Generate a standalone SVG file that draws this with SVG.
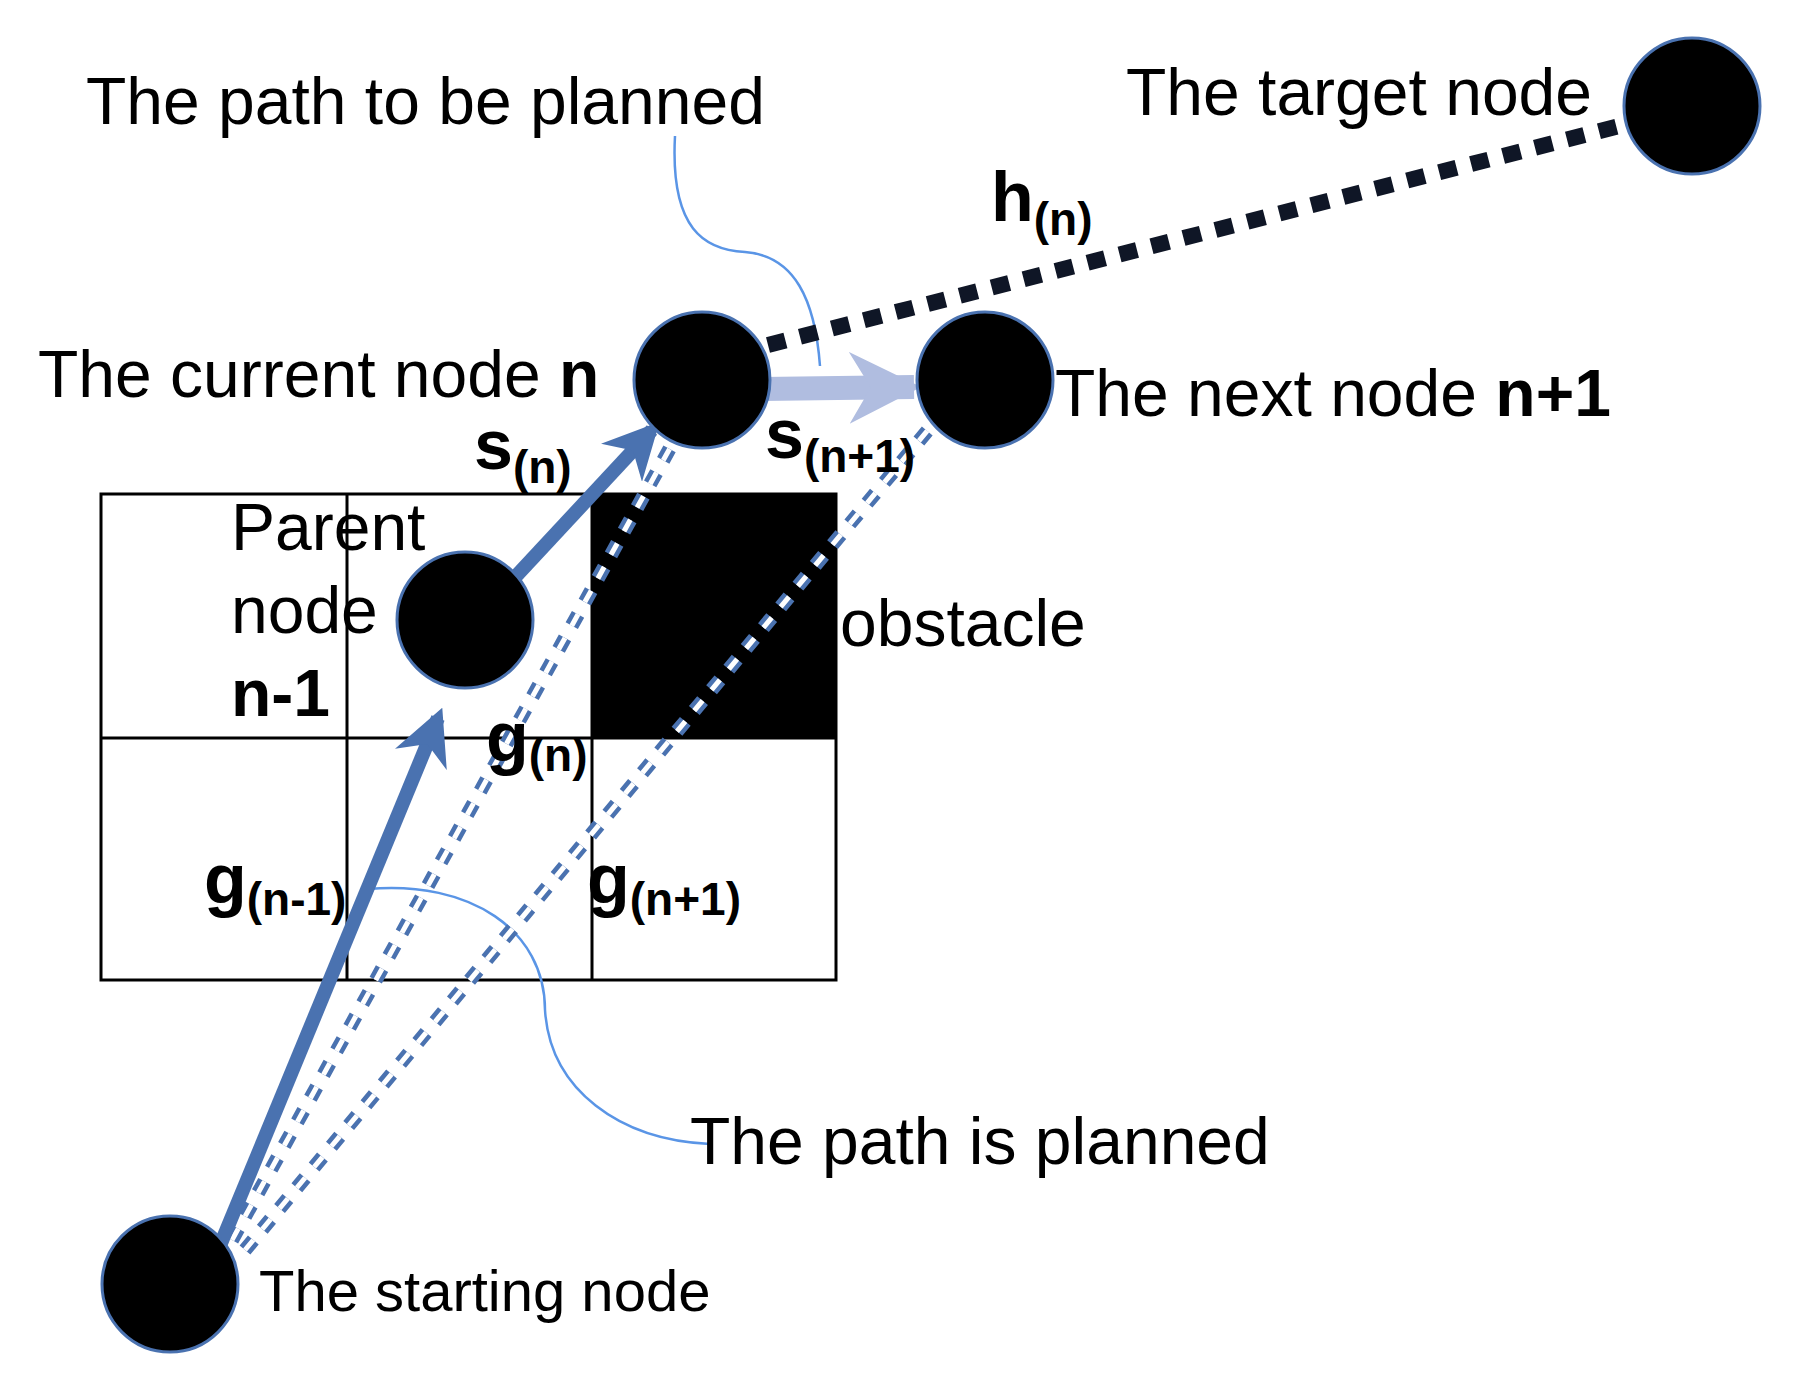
<svg xmlns="http://www.w3.org/2000/svg" width="1796" height="1396" viewBox="0 0 1796 1396">
<style>
text{font-family:"Liberation Sans",Arial,sans-serif;fill:#000}
.t{font-size:66px}
.b{font-weight:bold}
.node{fill:#000;stroke:#4a72b0;stroke-width:3}
.grid{fill:none;stroke:#000;stroke-width:3}
.call{fill:none;stroke:#5a95e6;stroke-width:2.5}
.dd1{fill:none;stroke:#4a72b0;stroke-width:14;stroke-dasharray:13 14}
.dd2{fill:none;stroke:#fff;stroke-width:5;stroke-dasharray:13 14}
</style>
<defs>
<marker id="ah" viewBox="0 0 10 10" refX="8" refY="5" markerWidth="4" markerHeight="4" orient="auto" markerUnits="strokeWidth"><path d="M0,0 L10,5 L0,10 L3,5 z" fill="#4a72b0"/></marker>
<marker id="ahl" viewBox="0 0 10 10" refX="9" refY="5" markerWidth="3" markerHeight="4.2" orient="auto" markerUnits="strokeWidth"><path d="M0,0 L10,5 L0,10 L3,5 z" fill="#b0bde0"/></marker>
</defs>
<g id="grid">
<rect x="592" y="494" width="244" height="244" fill="#000"/>
<rect class="grid" x="101" y="494" width="735" height="486"/>
<line class="grid" x1="101" y1="738" x2="836" y2="738"/>
<line class="grid" x1="347" y1="494" x2="347" y2="980"/>
<line class="grid" x1="592" y1="494" x2="592" y2="980"/>
</g>
<g id="connectors">
<path class="call" d="M675 136 C670 230 705 250 745 252 C795 256 815 300 820 366"/>
<path class="call" d="M368 889 C470 880 545 930 545 1010 C550 1090 620 1140 710 1144"/>
<line x1="768" y1="345" x2="1662" y2="115" stroke="#0f1626" stroke-width="16" stroke-dasharray="18 15"/>
<line class="dd1" x1="232" y1="1240" x2="680" y2="430"/>
<line class="dd2" x1="232" y1="1240" x2="680" y2="430"/>
<line class="dd1" x1="245" y1="1250" x2="928" y2="430"/>
<line class="dd2" x1="245" y1="1250" x2="928" y2="430"/>
<line x1="219" y1="1248" x2="438" y2="718" stroke="#4a72b0" stroke-width="14" marker-end="url(#ah)"/>
<line x1="506" y1="587" x2="652" y2="430" stroke="#4a72b0" stroke-width="14" marker-end="url(#ah)"/>
<line x1="762" y1="389" x2="914" y2="387" stroke="#b0bde0" stroke-width="24" marker-end="url(#ahl)"/>
</g>
<g id="start"><circle class="node" cx="170" cy="1284" r="68"/><text class="t" x="259" y="1311" style="font-size:58px">The starting node</text></g>
<g id="parent"><circle class="node" cx="465" cy="620" r="68"/><text class="t" x="231" y="550">Parent</text><text class="t" x="231" y="633">node</text><text class="t b" x="231" y="716">n-1</text></g>
<g id="current"><circle class="node" cx="702" cy="380" r="68"/><text class="t" x="38" y="397">The current node <tspan class="b">n</tspan></text></g>
<g id="next"><circle class="node" cx="985" cy="380" r="68"/><text class="t" x="1055" y="416">The next node <tspan class="b">n+1</tspan></text></g>
<g id="target"><circle class="node" cx="1692" cy="106" r="68"/><text class="t" x="1126" y="115">The target node</text></g>
<g id="labels">
<text class="t" x="86" y="124">The path to be planned</text>
<text class="t" x="840" y="646">obstacle</text>
<text class="t" x="690" y="1164">The path is planned</text>
<text class="b" x="991" y="221" style="font-size:70px">h<tspan style="font-size:46px" dy="14">(n)</tspan></text>
<text class="b" x="474" y="469" style="font-size:70px">s<tspan style="font-size:46px" dy="14">(n)</tspan></text>
<text class="b" x="765" y="458" style="font-size:70px">s<tspan style="font-size:46px" dy="14">(n+1)</tspan></text>
<text class="b" x="486" y="761" style="font-size:70px">g<tspan style="font-size:46px" dy="10">(n)</tspan></text>
<text class="b" x="204" y="903" style="font-size:70px">g<tspan style="font-size:46px" dy="12">(n-1)</tspan></text>
<text class="b" x="587" y="903" style="font-size:70px">g<tspan style="font-size:46px" dy="12">(n+1)</tspan></text>
</g>
</svg>
